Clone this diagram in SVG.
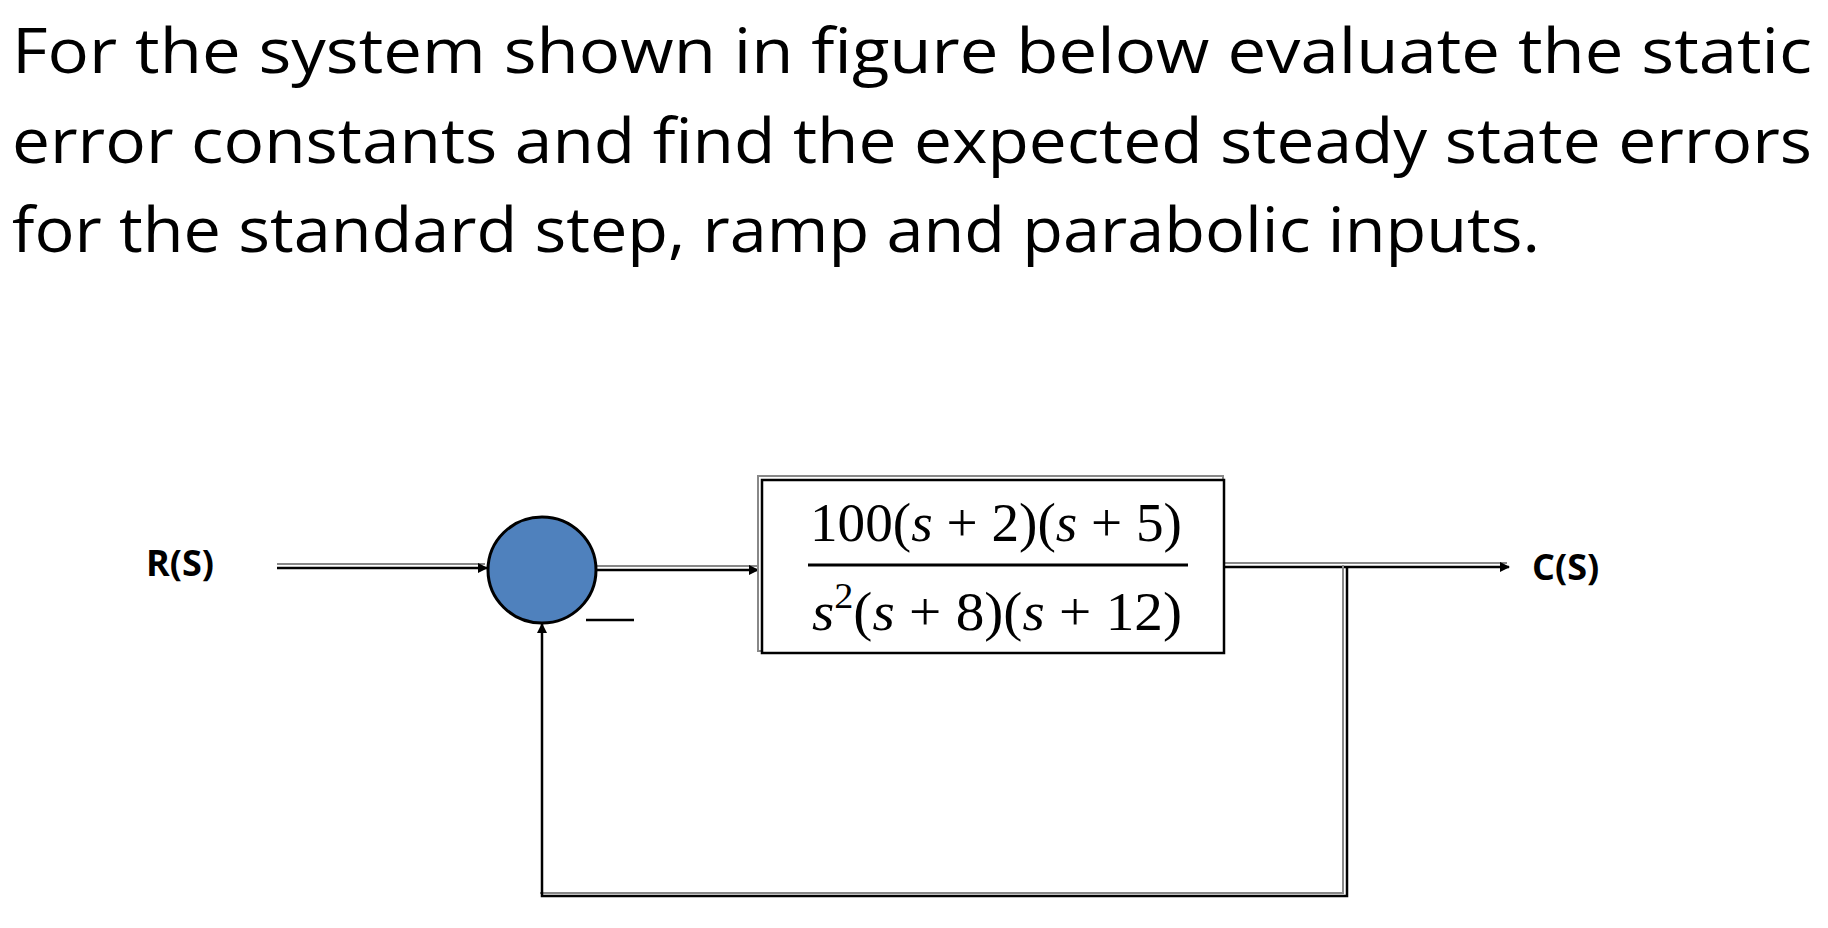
<svg xmlns="http://www.w3.org/2000/svg" width="1828" height="928" viewBox="0 0 1828 928">
<defs>
<marker id="ah" markerWidth="10" markerHeight="10" refX="9" refY="5" orient="auto" markerUnits="userSpaceOnUse"><path d="M0,0 L10,5 L0,10 z" fill="#000"/></marker>
<style>
.t{font-family:"Open Sans","Liberation Sans",sans-serif;font-size:62px;fill:#000}
.lbl{font-family:"Open Sans","Liberation Sans",sans-serif;font-weight:bold;font-size:36px;fill:#000}
.m{font-family:"Liberation Serif",serif;font-size:54px;fill:#000}
.w{stroke:#000;stroke-width:2.5;fill:none}
.g{stroke:#888;stroke-width:2;fill:none}
</style>
</defs>
<rect width="1828" height="928" fill="#fff"/>
<g id="title">
<text class="t" x="12" y="73" textLength="1800" lengthAdjust="spacingAndGlyphs">For the system shown in figure below evaluate the static</text>
<text class="t" x="12" y="163" textLength="1800" lengthAdjust="spacingAndGlyphs">error constants and find the expected steady state errors</text>
<text class="t" x="12" y="252" textLength="1528" lengthAdjust="spacingAndGlyphs">for the standard step, ramp and parabolic inputs.</text>
</g>
<g id="connectors">
<path class="g" d="M277,564 H485"/><path class="w" d="M277,568 H487" marker-end="url(#ah)"/>
<path class="g" d="M597,566 H757"/><path class="w" d="M597,570 H758" marker-end="url(#ah)"/>
<path class="g" d="M1223,563 H1507"/><path class="w" d="M1223,567 H1509" marker-end="url(#ah)"/>
<path class="g" d="M1343,565 V893 H540"/>
<path class="w" d="M1347,567 V896 H542 V624" marker-end="url(#ah)"/>
<path class="w" d="M586,620 H634"/>
</g>
<g id="R"><text class="lbl" x="146" y="576">R(S)</text></g>
<g id="C"><text class="lbl" x="1532" y="580">C(S)</text></g>
<g id="sum"><ellipse cx="542" cy="570" rx="54" ry="53" fill="#4f81bd" stroke="#000" stroke-width="3"/></g>
<g id="block">
<rect x="758" y="476" width="465" height="175" fill="none" stroke="#888" stroke-width="2"/>
<rect x="762" y="480" width="462" height="173" fill="#fff" stroke="#000" stroke-width="2.5"/>
<line x1="808" y1="565" x2="1188" y2="565" stroke="#000" stroke-width="3"/>
<text class="m" x="810" y="541" textLength="372" lengthAdjust="spacingAndGlyphs">100(<tspan font-style="italic">s</tspan> + 2)(<tspan font-style="italic">s</tspan> + 5)</text>
<text class="m" x="812" y="630" textLength="370" lengthAdjust="spacingAndGlyphs"><tspan font-style="italic">s</tspan><tspan dy="-22" font-size="36">2</tspan><tspan dy="22">(</tspan><tspan font-style="italic">s</tspan> + 8)(<tspan font-style="italic">s</tspan> + 12)</text>
</g>
</svg>
